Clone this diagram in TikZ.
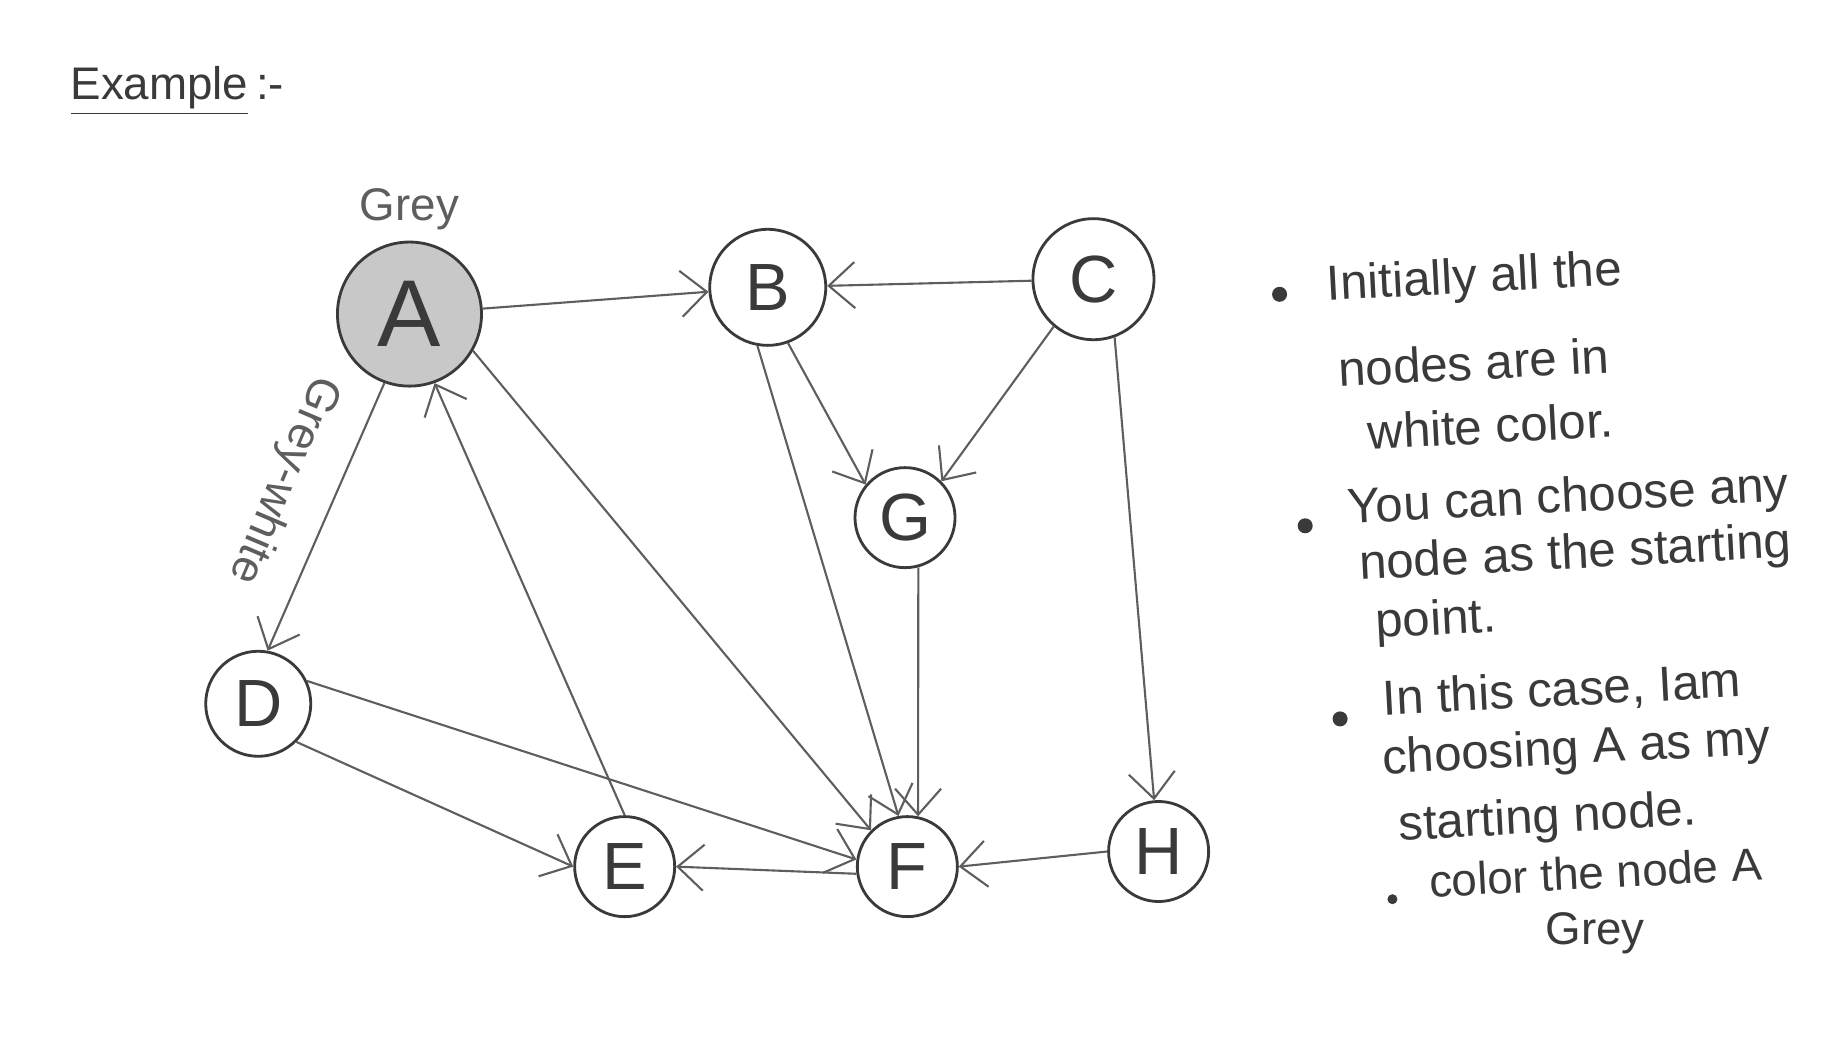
\documentclass[tikz,border=0pt]{standalone}
\usepackage{fontspec}
\setmainfont{Liberation Sans}
\usetikzlibrary{arrows.meta}
\definecolor{pencil}{HTML}{5E5E5E}
\definecolor{lead}{HTML}{3A3A3A}
\definecolor{shade}{HTML}{C8C8C8}
\tikzset{
  vtx/.style={circle,draw=lead,thick,fill=white,inner sep=0pt,minimum size=1cm,
    font=\fontsize{19}{22}\selectfont,text=lead},
  visited/.style={vtx,fill=shade,minimum size=1.44cm,font=\fontsize{27}{30}\selectfont},
  arc/.style={pencil,semithick,-{Straight Barb[length=2.6mm,width=4.6mm]}},
  note/.style={font=\fontsize{14}{17}\selectfont,text=lead,anchor=west,rotate=3},
  dotb/.style={circle,fill=lead,inner sep=0pt,minimum size=1.5mm},
  lbl/.style={font=\fontsize{13}{15}\selectfont,text=pencil},
}
\begin{document}
\begin{tikzpicture}[x=0.011633cm,y=0.011633cm]
  \useasboundingbox (0,0) rectangle (1568,908);
  % heading
  \node[font=\fontsize{13}{16}\selectfont,text=lead,anchor=west] (head) at (50,830) {\underline{Example}\,:-};
  % vertices
  \node[visited] (A) at (352,638) {A};
  \node[vtx,minimum size=1.16cm] (B) at (660,661) {B};
  \node[vtx,minimum size=1.21cm] (C) at (940,668) {C};
  \node[vtx] (G) at (778,463) {G};
  \node[vtx,minimum size=1.05cm] (D) at (222,303) {D};
  \node[vtx] (E) at (537,163) {E};
  \node[vtx] (F) at (780,163) {F};
  \node[vtx] (H) at (996,176) {H};
  \node[lbl] (grey) at (352,728) {Grey};
  % edges
  \draw[arc] (A) -- (B);
  \draw[arc] (C) -- (B);
  \draw[arc] (A.-110) -- node[lbl,rotate=-113,anchor=north,inner sep=9pt,pos=0.44] (gw) {Grey-white} (D.80);
  \draw[arc] (A.-30) -- (F.135);
  \draw[arc] (E.90) -- (A.-70);
  \draw[arc] (B.-70) -- (G.140);
  \draw[arc] (C.-130) -- (G.45);
  \draw[arc] (B.-100) -- (F.100);
  \draw[arc] (G.-75) -- (F.78);
  \draw[arc] (C.-70) -- (H.95);
  \draw[arc] (D.-45) -- (E.180);
  \draw[arc] (D.25) -- (F.172);
  \draw[arc] (F.188) -- (E.0);
  \draw[arc] (H.west) -- (F.east);
  % notes
  \node[dotb] (b1) at (1100,655) {};
  \node[note] (t1) at (1130,660) {Initially all the};
  \node[note] (t2) at (1140,590) {nodes are in};
  \node[note] (t3) at (1165,536) {white color.};
  \node[dotb] (b2) at (1122,456) {};
  \node[note] (t4) at (1148,468) {You can choose any};
  \node[note] (t5) at (1158,420) {node as the starting};
  \node[note] (t6) at (1172,370) {point.};
  \node[dotb] (b3) at (1152,290) {};
  \node[note] (t7) at (1178,305) {In this case, Iam};
  \node[note] (t8) at (1178,253) {choosing A as my};
  \node[note] (t9) at (1192,196) {starting node.};
  \node[dotb,minimum size=1mm] (b4) at (1197,135) {};
  \node[note,font=\fontsize{13}{15}\selectfont] (t10) at (1218,150) {color the node A};
  \node[note,font=\fontsize{13}{15}\selectfont,rotate=-3] (t11) at (1318,106) {Grey};
\end{tikzpicture}
\end{document}
